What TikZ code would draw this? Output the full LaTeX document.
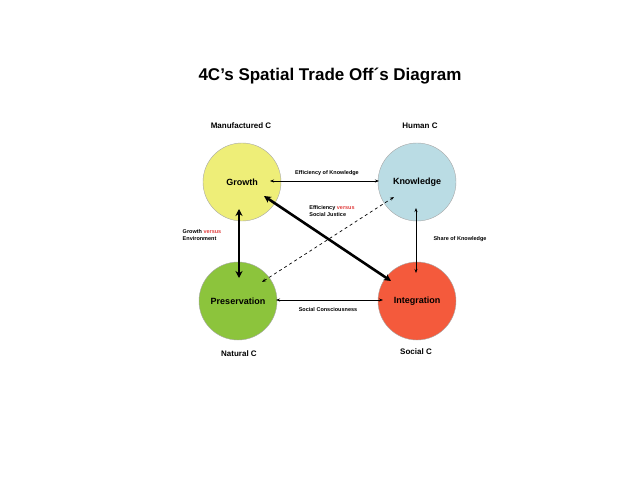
\documentclass[tikz,border=0pt]{standalone}
\usepackage{fontspec}
\setmainfont{Liberation Sans}
\usetikzlibrary{arrows.meta}
\definecolor{cy}{HTML}{EEEE78}
\definecolor{cb}{HTML}{BADCE4}
\definecolor{cg}{HTML}{8CC43C}
\definecolor{cr}{HTML}{F45A3C}
\definecolor{vs}{HTML}{E04040}
\begin{document}
\begin{tikzpicture}[x=1pt,y=-1pt,
  captxt/.style={font=\bfseries\fontsize{8}{9}\selectfont},
  ball/.style={circle,draw=gray!70,minimum size=78pt,inner sep=0pt,font=\bfseries\fontsize{9}{10}\selectfont},
  lbl/.style={font=\bfseries\fontsize{5.5}{6.5}\selectfont,align=left},
  thinarr/.style={draw,line width=0.7pt,{Stealth[length=4pt]}-{Stealth[length=4pt]}},
  thickarr/.style={draw,line width=2.6pt,{Stealth[length=7pt,width=7pt]}-{Stealth[length=7pt,width=7pt]}}]
\useasboundingbox (0,0) rectangle (638,479);
\node (title) at (330,76) {\bfseries\fontsize{17}{20}\selectfont 4C’s Spatial Trade Off´s Diagram};
\node[ball,fill=cy] (g) at (242,182) {Growth};
\node[ball,fill=cb] (k) at (417,182) {Knowledge};
\node[ball,fill=cg] (p) at (238,301) {Preservation};
\node[ball,fill=cr] (i) at (417,301) {Integration};
\node[captxt] (mc) at (241,126) {Manufactured C};
\node[captxt] (hc) at (420,126) {Human C};
\node[captxt] (nc) at (239,354) {Natural C};
\node[captxt] (sc) at (416,352) {Social C};
\coordinate (g1) at (270,181); \coordinate (k1) at (379,181);
\coordinate (p1) at (276,300); \coordinate (i1) at (383,300);
\coordinate (g2) at (239,209); \coordinate (p2) at (239,278);
\coordinate (k2) at (416,208); \coordinate (i2) at (416,273);
\coordinate (g3) at (264,196); \coordinate (i3) at (391,281);
\coordinate (p3) at (262,282); \coordinate (k3) at (394,197);
\draw[thinarr] (g1) -- (k1);
\draw[thinarr] (p1) -- (i1);
\draw[thinarr] (k2) -- (i2);
\draw[thickarr] (g2) -- (p2);
\draw[thickarr] (g3) -- (i3);
\draw[thinarr,dashed] (p3) -- (k3);
\node[lbl] (l1) at (327,173) {Efficiency of Knowledge};
\node[lbl] (l2) at (328,310) {Social Consciousness};
\node[lbl] (l3) at (460,239) {Share of Knowledge};
\node[lbl] (l4) at (202,235) {Growth \textcolor{vs}{versus}\\Environment};
\node[lbl] (l5) at (332,211) {Efficiency \textcolor{vs}{versus}\\Social Justice};
\end{tikzpicture}
\end{document}
